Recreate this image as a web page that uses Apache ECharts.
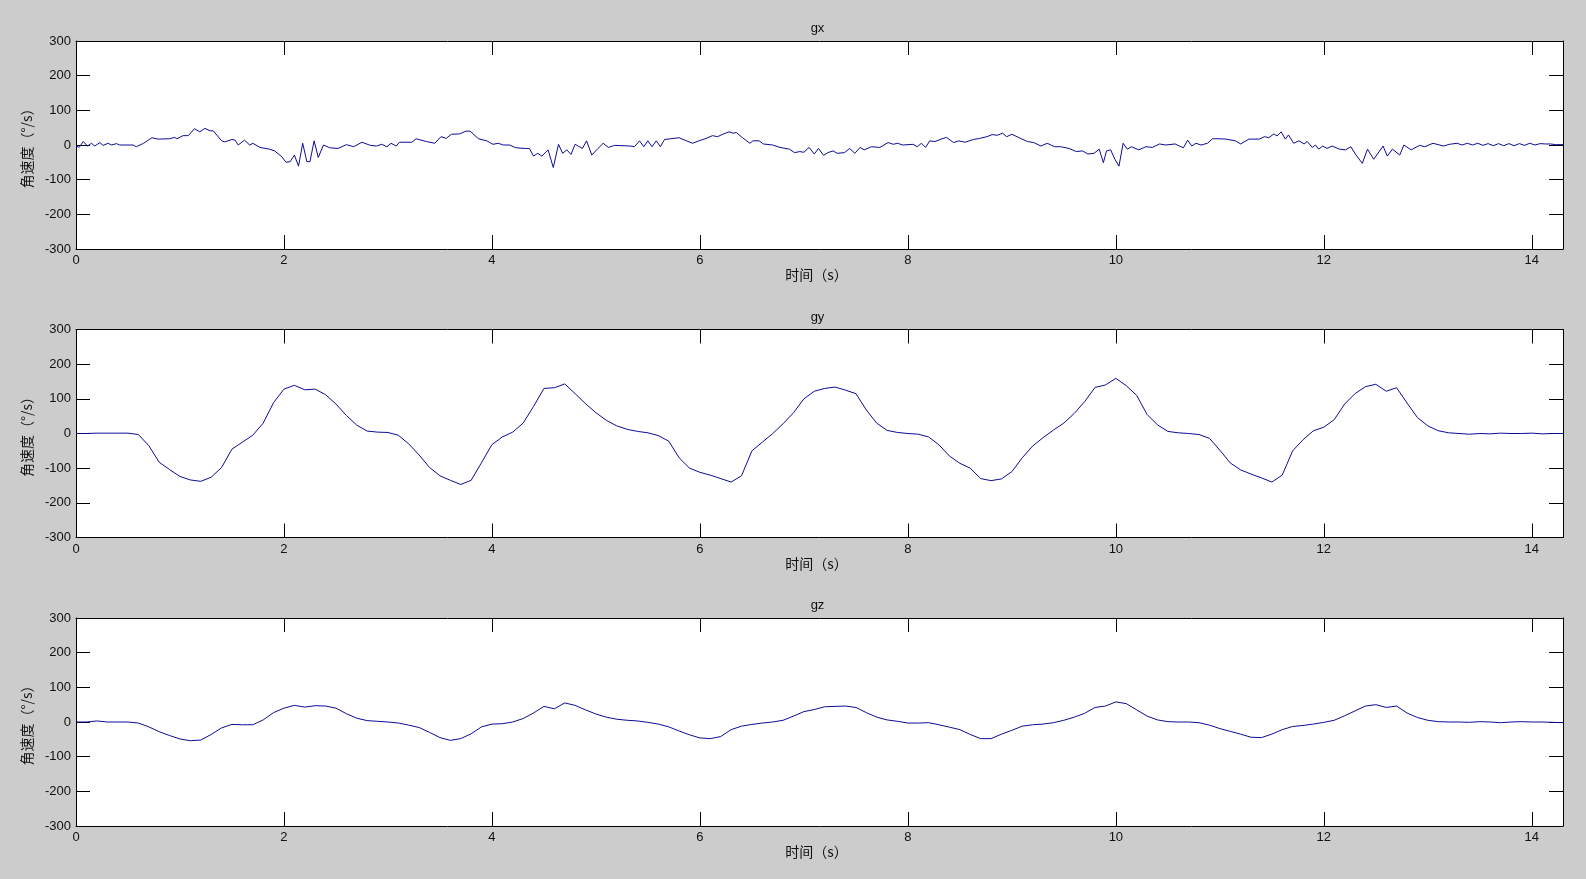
<!DOCTYPE html>
<html><head><meta charset="utf-8">
<script src="https://cdn.jsdelivr.net/npm/echarts@6/dist/echarts.min.js"></script>
<style>html,body{margin:0;padding:0;background:#cccccc;}#c{width:1586px;height:879px;}</style>
</head><body><div id="c"></div>
<script>
// ---- data ----
const panelTitles = ['gx', 'gy', 'gz'];
const xAxisName = '时间（s）';
const yAxisName = '角速度（°/s）';
const xTickValues = [0, 2, 4, 6, 8, 10, 12, 14];
const xMax = 14.3;
const yTickValues = [-300, -200, -100, 0, 100, 200, 300];

// gx: [time (s), angular rate (°/s)] pairs
const gxData = [[0,-3],[0.03,-7],[0.07,10],[0.11,-3],[0.15,5],[0.18,-3],[0.23,7],[0.26,-1],[0.31,5],[0.34,0],[0.39,4],[0.42,0],[0.55,0],[0.58,-5],[0.65,5],[0.73,21],[0.79,17],[0.90,18],[0.95,22],[0.97,18],[1.03,27],[1.08,27],[1.14,47],[1.19,38],[1.24,48],[1.29,41],[1.32,41],[1.40,12],[1.43,9],[1.50,16],[1.53,14],[1.56,0],[1.62,14],[1.67,0],[1.70,5],[1.77,-7],[1.86,-12],[1.91,-17],[1.98,-34],[2.02,-50],[2.06,-48],[2.10,-29],[2.14,-61],[2.18,5],[2.22,-48],[2.25,-48],[2.29,12],[2.33,-36],[2.38,0],[2.44,-8],[2.52,-10],[2.60,1],[2.67,-5],[2.75,8],[2.83,-1],[2.89,-3],[2.94,2],[2.99,-5],[3.03,5],[3.08,-3],[3.11,8],[3.23,8],[3.27,18],[3.37,10],[3.45,5],[3.51,24],[3.56,19],[3.61,31],[3.69,32],[3.75,40],[3.79,40],[3.87,18],[3.95,12],[4.01,2],[4.06,5],[4.11,0],[4.17,0],[4.23,-8],[4.32,-10],[4.36,-10],[4.40,-32],[4.44,-24],[4.48,-32],[4.54,-14],[4.59,-65],[4.64,2],[4.68,-24],[4.72,-14],[4.76,-27],[4.80,2],[4.87,-10],[4.91,12],[4.96,-29],[5.02,-10],[5.07,5],[5.12,-7],[5.18,-1],[5.33,-3],[5.37,-5],[5.42,12],[5.46,-5],[5.50,12],[5.54,-5],[5.58,12],[5.62,-5],[5.66,16],[5.72,18],[5.80,21],[5.87,12],[5.93,5],[5.99,12],[6.06,19],[6.12,27],[6.17,24],[6.22,31],[6.28,38],[6.32,34],[6.35,36],[6.41,21],[6.48,5],[6.51,12],[6.57,12],[6.61,3],[6.70,0],[6.77,-7],[6.86,-12],[6.91,-22],[6.96,-19],[7.00,-21],[7.05,-7],[7.10,-26],[7.14,-10],[7.19,-30],[7.23,-22],[7.28,-17],[7.32,-24],[7.39,-22],[7.44,-10],[7.49,-24],[7.54,-7],[7.58,-14],[7.65,-5],[7.73,-7],[7.81,7],[7.86,2],[7.90,5],[7.95,0],[8.05,2],[8.09,-5],[8.13,5],[8.17,-7],[8.21,12],[8.26,10],[8.31,16],[8.37,22],[8.44,7],[8.49,12],[8.55,8],[8.63,16],[8.69,19],[8.76,24],[8.81,30],[8.86,28],[8.91,34],[8.95,24],[9.00,31],[9.07,21],[9.15,10],[9.21,7],[9.28,-3],[9.34,5],[9.41,-5],[9.47,-5],[9.55,-10],[9.62,-19],[9.68,-17],[9.73,-26],[9.79,-24],[9.84,-12],[9.88,-51],[9.91,-17],[9.95,-14],[9.99,-41],[10.03,-61],[10.07,5],[10.11,-12],[10.15,-5],[10.22,-14],[10.29,-5],[10.35,-7],[10.42,3],[10.48,0],[10.57,3],[10.61,-3],[10.65,-8],[10.69,14],[10.73,-3],[10.77,5],[10.82,0],[10.88,5],[10.93,18],[10.99,18],[11.06,17],[11.15,12],[11.20,3],[11.28,17],[11.38,17],[11.43,24],[11.47,21],[11.52,32],[11.55,26],[11.59,38],[11.63,17],[11.66,29],[11.71,5],[11.76,12],[11.81,3],[11.84,10],[11.89,-7],[11.92,0],[11.95,-12],[11.99,-3],[12.03,-10],[12.08,-3],[12.15,-12],[12.21,-14],[12.26,-5],[12.31,-29],[12.37,-53],[12.42,-12],[12.48,-41],[12.57,-3],[12.61,-32],[12.66,-12],[12.73,-29],[12.77,0],[12.84,-14],[12.92,-1],[12.97,-5],[13.05,5],[13.15,-3],[13.21,2],[13.28,5],[13.33,0],[13.38,5],[13.43,0],[13.48,5],[13.53,-1],[13.58,4],[13.63,-2],[13.68,4],[13.73,-2],[13.78,4],[13.83,-2],[13.88,4],[13.93,-1],[13.98,5],[14.03,0],[14.08,4],[14.13,3],[14.18,3],[14.23,1],[14.30,1]];

// gy, gz: one value every 0.1 s from t = 0 to 14.3 s
const sampleStep = 0.1;
const gyValues = [0,0,1,1,1,1,-3,-35,-83,-104,-124,-134,-138,-126,-98,-45,-25,-5,30,89,
128,139,126,128,112,85,52,24,7,4,3,-5,-30,-62,-98,-122,-135,-147,-135,-84,
-32,-10,4,30,78,130,132,143,115,86,60,38,22,12,6,2,-6,-22,-70,-100,
-112,-120,-130,-140,-122,-50,-25,0,28,60,100,122,130,134,125,115,68,30,9,3,
0,-2,-10,-33,-65,-86,-100,-130,-136,-131,-110,-70,-36,-12,10,30,58,92,133,140,
159,138,110,55,25,6,2,0,-3,-14,-48,-85,-105,-117,-128,-140,-120,-50,-18,8,
18,40,85,115,135,142,122,132,88,46,22,8,2,0,-2,0,-1,1,0,0,1,-1,0,0];
const gzValues = [0,0,3,0,0,0,-3,-14,-28,-39,-49,-54,-52,-36,-17,-7,-8,-8,6,27,
40,48,43,47,46,40,24,11,4,2,0,-3,-9,-16,-30,-45,-53,-48,-34,-14,
-6,-5,0,10,26,45,38,55,48,35,23,14,8,5,3,-1,-6,-14,-26,-37,
-46,-48,-42,-22,-12,-7,-3,0,5,17,30,36,44,45,46,42,27,14,6,2,
-3,-3,-2,-8,-15,-22,-36,-48,-48,-35,-24,-12,-8,-6,-2,5,14,25,42,46,
58,53,35,17,6,1,0,0,-2,-9,-19,-27,-35,-44,-45,-35,-22,-13,-10,-6,
-1,5,18,32,46,50,42,46,26,13,5,1,0,0,-1,1,0,-2,0,1,0,0,-1,-2];

// ---- chart ----
function toPairs(vals){ return vals.map((v,i)=>[+(i*sampleStep).toFixed(2), v]); }
const seriesData = [gxData, toPairs(gyValues), toPairs(gzValues)];

const gridTops = [41, 329.5, 618];
const gridH = 208, gridLeft = 76, gridRight = 23;
const lineColor = '#0c0c96';
const font = 'Liberation Sans, Arial, Noto Sans CJK SC, sans-serif';
const cjkFont = 'Noto Sans CJK SC, Liberation Sans, sans-serif';

const grids = [], xAxes = [], yAxes = [], series = [], titles = [];
const plotCenter = gridLeft + (1586 - gridLeft - gridRight) / 2;
for (let i = 0; i < 3; i++) {
  grids.push({left: gridLeft, right: gridRight, top: gridTops[i], height: gridH,
    show: true, backgroundColor: '#ffffff', borderWidth: 0});
  const axisLine = {show: true, onZero: false, lineStyle: {color: '#000', width: 1}};
  const tick = {show: true, inside: true, length: 14, lineStyle: {color: '#000', width: 1}};
  xAxes.push({gridIndex: i, type: 'value', position: 'bottom', min: xTickValues[0], max: xMax,
    interval: xTickValues[1] - xTickValues[0],
    axisLine, axisTick: tick, splitLine: {show: false},
    axisLabel: {color: '#111', fontSize: 13, fontFamily: font, margin: 5, showMaxLabel: false},
    name: xAxisName, nameLocation: 'middle', nameGap: 19,
    nameTextStyle: {color: '#111', fontSize: 14, fontFamily: cjkFont, padding: [0, 6, 0, 0]}});
  xAxes.push({gridIndex: i, type: 'value', position: 'top', min: xTickValues[0], max: xMax,
    interval: xTickValues[1] - xTickValues[0],
    axisLine, axisTick: tick, splitLine: {show: false}, axisLabel: {show: false}});
  yAxes.push({gridIndex: i, type: 'value', position: 'left',
    min: yTickValues[0], max: yTickValues[yTickValues.length - 1],
    interval: yTickValues[1] - yTickValues[0],
    axisLine, axisTick: tick, splitLine: {show: false},
    axisLabel: {color: '#111', fontSize: 13, fontFamily: font, margin: 5},
    name: yAxisName, nameLocation: 'middle', nameGap: 38, nameRotate: 90,
    nameTextStyle: {color: '#111', fontSize: 14, fontFamily: cjkFont}});
  yAxes.push({gridIndex: i, type: 'value', position: 'right',
    min: yTickValues[0], max: yTickValues[yTickValues.length - 1],
    interval: yTickValues[1] - yTickValues[0],
    axisLine, axisTick: tick, splitLine: {show: false}, axisLabel: {show: false}});
  series.push({type: 'line', name: panelTitles[i], xAxisIndex: 2 * i, yAxisIndex: 2 * i,
    data: seriesData[i], showSymbol: false, symbol: 'none',
    lineStyle: {color: lineColor, width: 1}, itemStyle: {color: lineColor},
    animation: false, silent: true, clip: true});
  titles.push({text: panelTitles[i], left: plotCenter - 7, top: gridTops[i] - 24, textAlign: 'center',
    textStyle: {color: '#111', fontSize: 13, fontWeight: 'normal', fontFamily: font}});
}

const chart = echarts.init(document.getElementById('c'), null, {renderer: 'canvas'});
chart.setOption({
  backgroundColor: '#cccccc',
  animation: false,
  title: titles,
  grid: grids,
  xAxis: xAxes,
  yAxis: yAxes,
  series: series
});
</script></body></html>
